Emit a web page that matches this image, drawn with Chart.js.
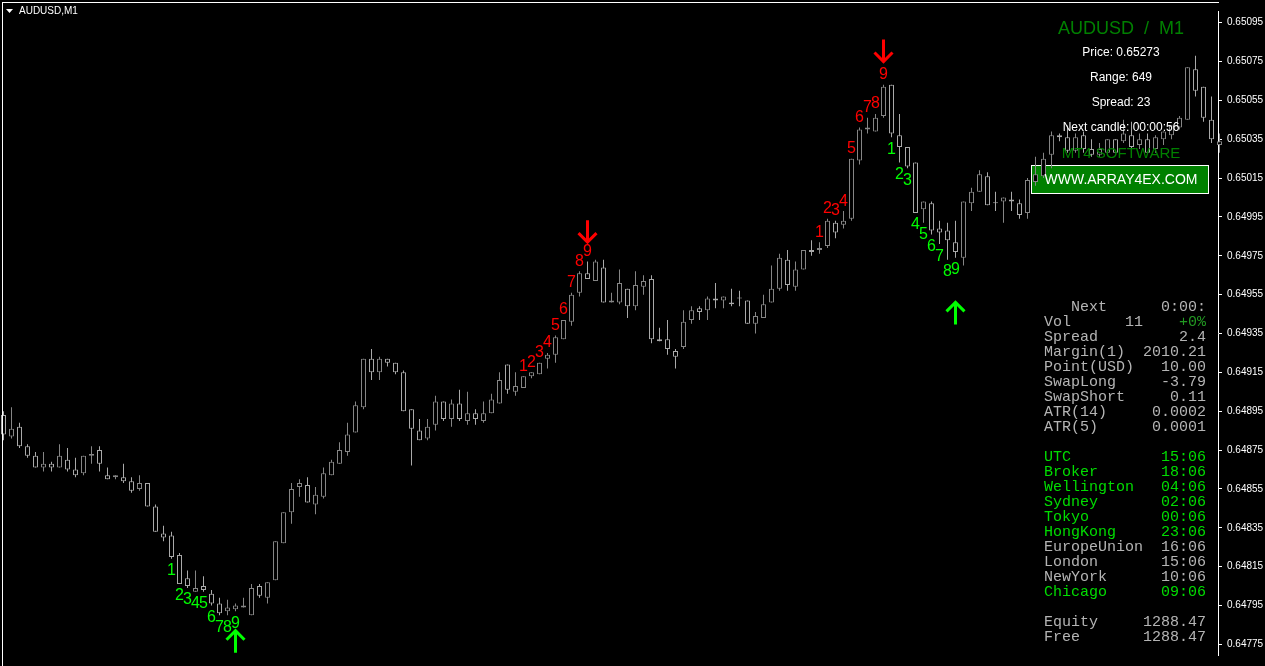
<!DOCTYPE html>
<html>
<head>
<meta charset="utf-8">
<script src="https://cdn.jsdelivr.net/npm/chart.js@4.4.0/dist/chart.umd.min.js"></script>
<style>
html, body { margin: 0; padding: 0; background: #000; overflow: hidden; }
canvas { display: block; }
</style>
</head>
<body>
<canvas id="Chart" width="1265" height="666"></canvas>
<script>
// AUDUSD M1 candles (one entry per minute bar)
const opens = [
  0.64893,0.64882,0.64887,0.64877,0.64872,0.64866,0.64868,0.64866,0.64870,0.64865,
  0.64863,0.64872,0.64875,0.64862,0.64861,0.64861,0.64859,0.64855,0.64858,0.64846,
  0.64832,0.64831,0.64821,0.64809,0.64802,0.64805,0.64801,0.64796,0.64792,0.64793,
  0.64794,0.64790,0.64805,0.64799,0.64808,0.64827,0.64843,0.64856,0.64857,0.64847,
  0.64851,0.64862,0.64868,0.64874,0.64884,0.64897,0.64922,0.64915,0.64922,0.64920,
  0.64915,0.64896,0.64885,0.64881,0.64888,0.64900,0.64891,0.64899,0.64890,0.64894,
  0.64890,0.64894,0.64899,0.64919,0.64905,0.64907,0.64913,0.64914,0.64922,0.64924,
  0.64932,0.64941,0.64956,0.64966,0.64962,0.64969,0.64951,0.64951,0.64958,0.64949,
  0.64959,0.64963,0.64932,0.64932,0.64926,0.64928,0.64942,0.64948,0.64947,0.64953,
  0.64952,0.64951,0.64953,0.64952,0.64940,0.64943,0.64951,0.64958,0.64973,0.64959,
  0.64968,0.64978,0.64978,0.64980,0.64992,0.64991,0.64994,0.65024,0.65040,0.65039,
  0.65047,0.65063,0.65037,0.65031,0.65023,0.64999,0.65002,0.64989,0.64988,0.64982,
  0.64974,0.65002,0.65008,0.65016,0.65002,0.65003,0.65004,0.65002,0.64997,0.65013,
  0.65016,0.65027,0.65037,0.65036,0.65029,0.65037,0.65030,0.65027,0.65028,0.65035,
  0.65034,0.65037,0.65032,0.65035,0.65030,0.65035,0.65037,0.65041,0.65045,0.65071,
  0.65062,0.65045,0.65032
];
const highs = [
  0.64895,0.64897,0.64889,0.64878,0.64874,0.64874,0.64869,0.64878,0.64876,0.64871,
  0.64872,0.64877,0.64877,0.64866,0.64862,0.64868,0.64861,0.64862,0.64858,0.64847,
  0.64836,0.64833,0.64822,0.64813,0.64813,0.64810,0.64803,0.64799,0.64798,0.64796,
  0.64799,0.64806,0.64806,0.64807,0.64828,0.64843,0.64858,0.64860,0.64861,0.64856,
  0.64866,0.64870,0.64879,0.64889,0.64900,0.64922,0.64927,0.64923,0.64922,0.64920,
  0.64916,0.64896,0.64891,0.64891,0.64903,0.64900,0.64901,0.64906,0.64905,0.64896,
  0.64900,0.64904,0.64915,0.64919,0.64915,0.64913,0.64915,0.64920,0.64925,0.64934,
  0.64942,0.64956,0.64967,0.64972,0.64973,0.64973,0.64956,0.64968,0.64958,0.64967,
  0.64965,0.64965,0.64938,0.64942,0.64927,0.64947,0.64949,0.64949,0.64954,0.64961,
  0.64954,0.64958,0.64957,0.64952,0.64946,0.64955,0.64970,0.64976,0.64978,0.64972,
  0.64978,0.64983,0.64982,0.64994,0.64993,0.64998,0.65025,0.65041,0.65046,0.65048,
  0.65063,0.65063,0.65048,0.65031,0.65023,0.65003,0.65003,0.64993,0.64992,0.64993,
  0.65003,0.65010,0.65019,0.65018,0.65008,0.65005,0.65008,0.65004,0.65015,0.65026,
  0.65028,0.65039,0.65038,0.65042,0.65038,0.65039,0.65035,0.65033,0.65035,0.65035,
  0.65045,0.65044,0.65038,0.65038,0.65037,0.65039,0.65042,0.65047,0.65072,0.65078,
  0.65062,0.65057,0.65038
];
const lows = [
  0.64880,0.64881,0.64876,0.64871,0.64866,0.64864,0.64864,0.64866,0.64864,0.64861,
  0.64862,0.64868,0.64864,0.64860,0.64860,0.64858,0.64853,0.64854,0.64846,0.64833,
  0.64828,0.64819,0.64806,0.64804,0.64802,0.64802,0.64795,0.64790,0.64790,0.64792,
  0.64794,0.64790,0.64799,0.64796,0.64808,0.64827,0.64837,0.64851,0.64848,0.64842,
  0.64850,0.64862,0.64868,0.64872,0.64884,0.64896,0.64911,0.64911,0.64918,0.64914,
  0.64895,0.64867,0.64880,0.64880,0.64885,0.64890,0.64887,0.64890,0.64888,0.64888,
  0.64889,0.64894,0.64899,0.64904,0.64903,0.64907,0.64912,0.64914,0.64917,0.64920,
  0.64932,0.64939,0.64954,0.64963,0.64962,0.64951,0.64951,0.64950,0.64943,0.64947,
  0.64955,0.64930,0.64931,0.64924,0.64917,0.64927,0.64940,0.64942,0.64942,0.64948,
  0.64948,0.64949,0.64949,0.64940,0.64935,0.64943,0.64951,0.64957,0.64957,0.64957,
  0.64968,0.64975,0.64976,0.64979,0.64984,0.64989,0.64993,0.65022,0.65038,0.65039,
  0.65046,0.65036,0.65023,0.65020,0.64997,0.64992,0.64986,0.64981,0.64973,0.64974,
  0.64970,0.64998,0.65008,0.65001,0.64998,0.64992,0.64998,0.64994,0.64994,0.65011,
  0.65015,0.65020,0.65034,0.65028,0.65028,0.65028,0.65026,0.65026,0.65027,0.65028,
  0.65033,0.65030,0.65030,0.65028,0.65028,0.65032,0.65035,0.65040,0.65045,0.65057,
  0.65044,0.65033,0.65028
];
const closes = [
  0.64883,0.64886,0.64877,0.64872,0.64866,0.64868,0.64866,0.64872,0.64865,0.64862,
  0.64872,0.64873,0.64868,0.64860,0.64862,0.64859,0.64854,0.64858,0.64846,0.64833,
  0.64830,0.64820,0.64806,0.64805,0.64804,0.64803,0.64796,0.64791,0.64794,0.64795,
  0.64795,0.64804,0.64800,0.64807,0.64828,0.64843,0.64855,0.64858,0.64848,0.64852,
  0.64863,0.64869,0.64875,0.64883,0.64898,0.64922,0.64915,0.64922,0.64920,0.64915,
  0.64895,0.64886,0.64880,0.64887,0.64900,0.64891,0.64899,0.64891,0.64894,0.64891,
  0.64894,0.64901,0.64911,0.64906,0.64908,0.64913,0.64915,0.64920,0.64924,0.64933,
  0.64942,0.64955,0.64966,0.64963,0.64972,0.64951,0.64952,0.64961,0.64949,0.64960,
  0.64962,0.64932,0.64931,0.64927,0.64923,0.64941,0.64947,0.64946,0.64953,0.64952,
  0.64954,0.64950,0.64953,0.64940,0.64944,0.64950,0.64958,0.64974,0.64960,0.64968,
  0.64978,0.64977,0.64979,0.64993,0.64987,0.64993,0.65025,0.65040,0.65041,0.65046,
  0.65062,0.65038,0.65031,0.65021,0.64997,0.65003,0.64988,0.64987,0.64983,0.64977,
  0.65003,0.65008,0.65017,0.65001,0.65002,0.65005,0.65003,0.64996,0.65014,0.65017,
  0.65025,0.65037,0.65036,0.65029,0.65036,0.65030,0.65027,0.65030,0.65035,0.65028,
  0.65038,0.65031,0.65035,0.65028,0.65036,0.65039,0.65042,0.65046,0.65072,0.65060,
  0.65046,0.65035,0.65034
];

// price axis labels
const yTicks = [0.65095,0.65075,0.65055,0.65035,0.65015,0.64995,0.64975,0.64955,0.64935,
  0.64915,0.64895,0.64875,0.64855,0.64835,0.64815,0.64795,0.64775];

// TD sequential counts (bar index + number)
const sellCountBars = [65,66,67,68,69,70,71,72,73, 102,103,104,105,106,107,108,109,110];
const sellCountText = ['1','2','3','4','5','6','7','8','9','1','2','3','4','5','6','7','8','9'];
const buyCountBars  = [21,22,23,24,25,26,27,28,29, 111,112,113,114,115,116,117,118,119];
const buyCountText  = ['1','2','3','4','5','6','7','8','9','1','2','3','4','5','6','7','8','9'];

// signal arrows (bar index + price of the arrow tip)
const sellArrowBars = [73, 110];
const sellArrowPrice = [0.64982, 0.65075];
const buyArrowBars = [29, 119];
const buyArrowPrice = [0.64782, 0.64951];

// info texts
const symbolTitle = 'AUDUSD,M1';
const infoTitle = 'AUDUSD  /  M1';
const infoLines = ['Price: 0.65273', 'Range: 649', 'Spread: 23', 'Next candle: 00:00:56'];
const brandText = 'MT4 SOFTWARE';
const siteText = 'WWW.ARRAY4EX.COM';

const panelLabels = ['   Next','Vol','Spread','Margin(1)','Point(USD)','SwapLong','SwapShort','ATR(14)','ATR(5)','',
  'UTC','Broker','Wellington','Sydney','Tokyo','HongKong','EuropeUnion','London','NewYork','Chicago','',
  'Equity','Free'];
const panelValues = ['0:00:','+0%','2.4','2010.21','10.00','-3.79','0.11','0.0002','0.0001','',
  '15:06','18:06','04:06','02:06','00:06','23:06','16:06','15:06','10:06','09:06','',
  '1288.47','1288.47'];
const panelGreen = [false,false,false,false,false,false,false,false,false,false,
  true,true,true,true,true,true,false,false,false,true,false,false,false];
const volTicks = '11';

const BULL = '#858585';
const BEAR = '#a9a9a9';

const candleColors = opens.map((o, i) => closes[i] > o ? BULL : BEAR);
const bodies = opens.map((o, i) => ({x: i, y: [o, closes[i]]}));
const wicks = lows.map((l, i) => ({x: i, y: [l, highs[i]]}));

function drawArrow(ctx, x, yTip, dir, color) {
    // dir 1 = pointing down, -1 = pointing up
    ctx.save();
    ctx.strokeStyle = color;
    ctx.lineWidth = 3;
    ctx.beginPath();
    ctx.moveTo(x, yTip - dir * 22);
    ctx.lineTo(x, yTip - dir * 1);
    ctx.moveTo(x - 9, yTip - dir * 9);
    ctx.lineTo(x, yTip);
    ctx.lineTo(x + 9, yTip - dir * 9);
    ctx.stroke();
    ctx.restore();
}

const overlay = {
    id: 'overlay',
    beforeDatasetsDraw(chart) {
        const ctx = chart.ctx;
        ctx.save();
        ctx.fillStyle = '#008000';
        ctx.fillRect(1031, 165, 178, 29);
        ctx.strokeStyle = '#ffffff';
        ctx.lineWidth = 1;
        ctx.strokeRect(1031.5, 165.5, 177, 28);
        ctx.restore();
    },
    afterDraw(chart) {
        const ctx = chart.ctx;
        const xs = chart.scales.x, ys = chart.scales.y;
        ctx.save();

        // window frame
        ctx.fillStyle = '#ffffff';
        ctx.fillRect(2, 2, 1217, 1);
        ctx.fillRect(2, 2, 1, 664);

        // symbol caption
        ctx.beginPath();
        ctx.moveTo(6, 9); ctx.lineTo(13, 9); ctx.lineTo(9.5, 13); ctx.closePath();
        ctx.fill();
        ctx.font = '10px "Liberation Sans", Arial, sans-serif';
        ctx.textBaseline = 'middle';
        ctx.textAlign = 'left';
        ctx.fillText(symbolTitle, 19, 11);

        // counts
        ctx.font = '16px "Liberation Sans", Arial, sans-serif';
        ctx.textAlign = 'center';
        ctx.fillStyle = '#ff0000';
        sellCountBars.forEach((b, k) => {
            ctx.fillText(sellCountText[k], xs.getPixelForValue(b), ys.getPixelForValue(highs[b]) - 10);
        });
        ctx.fillStyle = '#00ff00';
        buyCountBars.forEach((b, k) => {
            ctx.fillText(buyCountText[k], xs.getPixelForValue(b), ys.getPixelForValue(lows[b]) + 12);
        });

        // arrows
        sellArrowBars.forEach((b, k) => {
            drawArrow(ctx, xs.getPixelForValue(b), ys.getPixelForValue(sellArrowPrice[k]), 1, '#ff0000');
        });
        buyArrowBars.forEach((b, k) => {
            drawArrow(ctx, xs.getPixelForValue(b), ys.getPixelForValue(buyArrowPrice[k]), -1, '#00ff00');
        });

        // info block
        const cx = 1121;
        ctx.fillStyle = '#008000';
        ctx.font = '18px "Liberation Sans", Arial, sans-serif';
        ctx.fillText(infoTitle, cx, 29);
        ctx.fillStyle = '#ffffff';
        ctx.font = '12px "Liberation Sans", Arial, sans-serif';
        infoLines.forEach((t, k) => ctx.fillText(t, cx, 53 + k * 25));
        ctx.fillStyle = '#008000';
        ctx.font = '15px "Liberation Sans", Arial, sans-serif';
        ctx.fillText(brandText, cx, 154);
        ctx.fillStyle = '#ffffff';
        ctx.font = '14px "Liberation Sans", Arial, sans-serif';
        ctx.fillText(siteText, cx, 180);

        // terminal panel
        ctx.font = '15px "Liberation Mono", "Courier New", monospace';
        panelLabels.forEach((lbl, k) => {
            if (!lbl) return;
            const y = 307 + k * 15;
            ctx.fillStyle = panelGreen[k] ? '#00dd00' : '#b4b4b4';
            ctx.textAlign = 'left';
            ctx.fillText(lbl, 1044, y);
            ctx.textAlign = 'right';
            if (k === 1) {
                ctx.fillText(volTicks, 1143, y);
                ctx.fillStyle = '#229922';
            }
            ctx.fillText(panelValues[k], 1206, y);
        });
        ctx.restore();
    }
};

const canvas = document.getElementById('Chart');
const ctx = canvas.getContext('2d');
const chart = new Chart(ctx, {
    type: 'bar',
    data: {
        datasets: [
            {
                label: 'body',
                data: bodies,
                backgroundColor: '#000000',
                borderColor: candleColors,
                borderWidth: 1,
                borderSkipped: false,
                barThickness: 5,
                minBarLength: 1,
                inflateAmount: 0,
                grouped: false,
                clip: false
            },
            {
                label: 'wick',
                data: wicks,
                backgroundColor: candleColors,
                borderWidth: 0,
                barThickness: 1,
                minBarLength: 1,
                inflateAmount: 0,
                grouped: false,
                clip: false
            }
        ]
    },
    options: {
        responsive: false, //fixed canvas size
        animation: false,
        events: [],
        layout: { padding: { left: 3, top: 3, right: 0, bottom: 0 } },
        plugins: { legend: { display: false }, tooltip: { enabled: false } },
        scales: {
            x: {
                type: 'linear',
                display: false,
                offset: false,
                min: -0.0625,
                max: 151.8125
            },
            y: {
                position: 'right',
                min: 0.647695,
                max: 0.65101,
                afterBuildTicks: (s) => { s.ticks = yTicks.map(v => ({ value: v })); },
                afterFit: (s) => { s.width = 47; },
                grid: { drawOnChartArea: false, drawTicks: true, tickLength: 4, color: '#ffffff' },
                border: { display: true, color: '#ffffff', width: 1 },
                ticks: {
                    color: '#ffffff',
                    padding: 5,
                    autoSkip: false,
                    font: { family: '"Liberation Sans", Arial, sans-serif', size: 10 },
                    callback: (v) => Number(v).toFixed(5)
                }
            }
        }
    },
    plugins: [overlay]
});
</script>
</body>
</html>
